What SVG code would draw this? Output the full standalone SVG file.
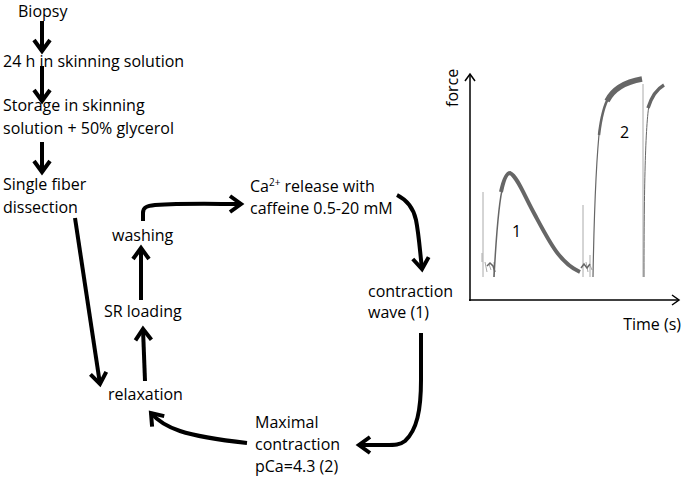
<svg xmlns="http://www.w3.org/2000/svg" width="685" height="480" viewBox="0 0 685 480">
<style>
text{font-family:"Open Sans","Liberation Sans",sans-serif;font-size:16px;fill:#000}
.c{fill:none;stroke:#000;stroke-width:4;stroke-linecap:butt;marker-end:url(#ah)}
.ax{fill:none;stroke:#000;stroke-width:1.5;marker-end:url(#axh)}
.tr{fill:none;stroke:#666;stroke-linecap:butt}
.sp{fill:none;stroke:#aaa;stroke-width:1}
</style>
<defs>
<marker id="ah" markerUnits="userSpaceOnUse" markerWidth="30" markerHeight="30" viewBox="-20 -15 30 30" refX="0" refY="0" orient="auto" overflow="visible">
<path d="M-11,-8 L0,0 L-11,8" fill="none" stroke="#000" stroke-width="4"/>
</marker>
<marker id="axh" markerUnits="userSpaceOnUse" markerWidth="20" markerHeight="20" viewBox="-10 -10 20 20" refX="0" refY="0" orient="auto" overflow="visible">
<path d="M-7,-5 L0,0 L-7,5" fill="none" stroke="#000" stroke-width="1.5"/>
</marker>
</defs>
<g id="connectors">
<path class="c" d="M42,21 L42,51"/>
<path class="c" d="M42,66 L42,101"/>
<path class="c" d="M42,142 L42,172"/>
<path class="c" d="M75,218 L100,384"/>
<path class="c" d="M145,381 L143,329"/>
<path class="c" d="M141,300 L141,248"/>
<path class="c" d="M143,221 L143,213 C143,207 147,206 155,205 C185,203 215,204 241,204"/>
<path class="c" d="M397,195 C405,199 413,206 416,220 C419,235 420,252 422,269"/>
<path class="c" d="M421,333 L421,380 C421,410 417,430 405,441 C400,445 395,445 385,445 L359,445"/>
<path class="c" d="M247,443 C220,440 195,436 180,431 C165,426 157,420 151,413"/>
</g>
<g id="n-biopsy"><text x="18" y="17">Biopsy</text></g>
<g id="n-skinning"><text x="3" y="67">24 h in skinning solution</text></g>
<g id="n-storage"><text x="3" y="111">Storage in skinning</text><text x="3" y="134">solution + 50% glycerol</text></g>
<g id="n-dissection"><text x="3" y="190">Single fiber</text><text x="3" y="213">dissection</text></g>
<g id="n-release"><text x="250" y="192">Ca<tspan font-size="10" dy="-6">2+</tspan><tspan dy="6"> release with</tspan></text><text x="250" y="214">caffeine 0.5-20 mM</text></g>
<g id="n-washing"><text x="112" y="241">washing</text></g>
<g id="n-srloading"><text x="104" y="317">SR loading</text></g>
<g id="n-relaxation"><text x="108" y="400">relaxation</text></g>
<g id="n-wave"><text x="368" y="297">contraction</text><text x="368" y="318">wave (1)</text></g>
<g id="n-maximal"><text x="255" y="428">Maximal</text><text x="255" y="450">contraction</text><text x="255" y="472">pCa=4.3 (2)</text></g>
<g id="graph">
<path class="ax" d="M470,301 L470,74"/>
<path class="ax" d="M469,300 L679,300"/>
<text transform="translate(458,107) rotate(-90)" font-size="15">force</text>
<text x="681" y="330" font-size="15" text-anchor="end">Time (s)</text>
<text x="512" y="237">1</text>
<text x="620" y="138">2</text>
<path class="sp" d="M483,192 L483,277 M482,253 L482,262 M485,262 L487,272 M489,264 L491,270 M494,262 L494,277 M583,205 L583,277 M586,262 L588,272 M590,265 L592,270 M590,255 L590,277 M643,84 L643,277"/>
<path class="tr" stroke-width="1.5" d="M487,266 L490,263 L493,266 L495,272"/>
<path class="tr" stroke-width="1.5" d="M494,277 C496,240 499,200 503,186"/>
<path class="tr" stroke-width="4" d="M501,192 C504,178 507,173 510,173 C517,176 524,195 535,215 C550,243 560,263 580,272"/>
<path class="tr" stroke-width="1.5" d="M581,268 L584,264 L587,268 L590,264"/>
<path class="tr" stroke-width="1.2" d="M593,277 C594,220 596,160 600,125"/>
<path class="tr" stroke-width="2.5" d="M599,135 C601,118 604,105 609,97"/>
<path class="tr" stroke-width="5.5" d="M607,101 C613,89 625,82 642,79"/>
<path class="tr" stroke-width="1" d="M644,277 C644,200 645,130 649,105"/>
<path class="tr" stroke-width="3.5" d="M648,108 C652,95 657,89 664,85"/>
</g>
</svg>
